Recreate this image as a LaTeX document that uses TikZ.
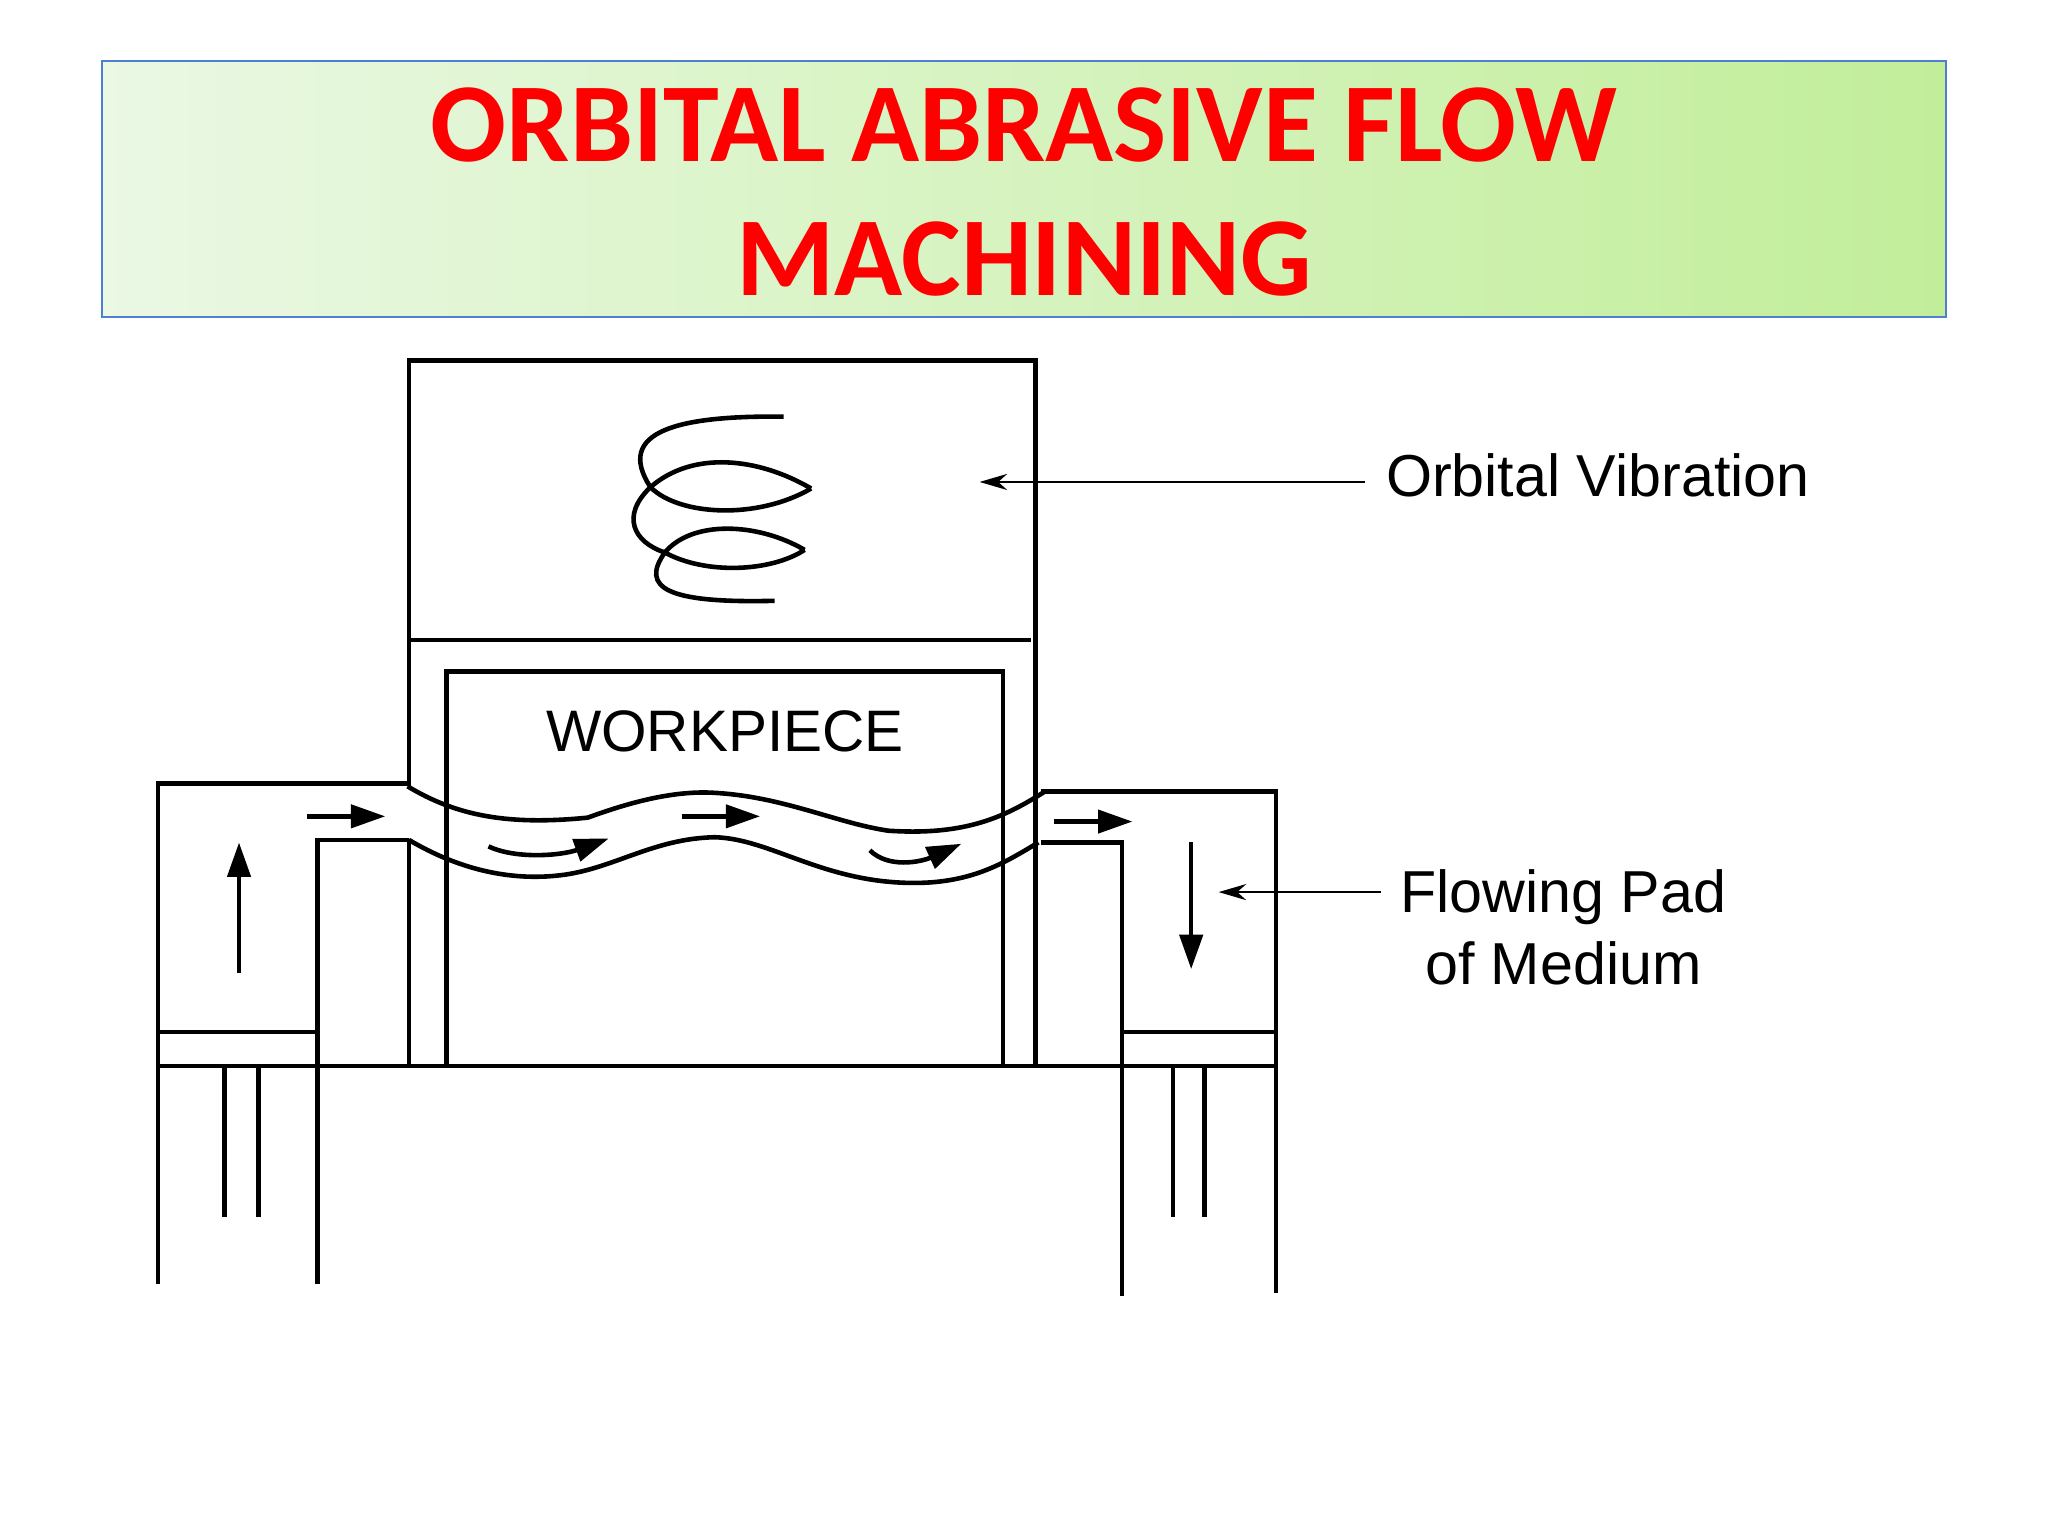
\documentclass[tikz,border=0pt]{standalone}
\usepackage{fontspec}
\setmainfont{Liberation Sans}
\newfontfamily\titlefont{Carlito}
\usetikzlibrary{arrows.meta}
\definecolor{gL}{HTML}{EAF8E4}
\definecolor{gR}{HTML}{C2EE9A}
\definecolor{bd}{HTML}{4F7FD0}
\begin{document}
\begin{tikzpicture}[x=0.02cm,y=-0.02cm,
  ln/.style={line width=2pt},
  arr/.style={line width=2pt,-{Triangle[length=15pt,width=10pt]}},
  larr/.style={line width=1.1pt,-{Stealth[length=12pt,width=7pt]}},
  lbl/.style={font=\fontsize{25.8}{31}\selectfont,align=center}]
\useasboundingbox (0,0) rectangle (1568,1176);
\fill[white] (0,0) rectangle (1568,1176);
% title
\shade[left color=gL, right color=gR] (78,47) rectangle (1490,243);
\draw[bd, line width=0.9pt] (78,47) rectangle (1490,243);
\node[font=\titlefont\bfseries\fontsize{49}{58}\selectfont, text=red, align=center] (title) at (784,147) {ORBITAL ABRASIVE FLOW\\MACHINING};
% top box
\draw[ln] (313,490) -- (313,276) -- (793,276) -- (793,816);
\draw[ln] (313,490) -- (789,490);
\draw[ln] (313,490) -- (313,602);
\draw[ln] (313,643) -- (313,816);
% workpiece
\draw[ln] (342,816) -- (342,514) -- (768,514) -- (768,816);
\node[lbl, font=\fontsize{25.5}{30}\selectfont] (wp) at (555,560) {WORKPIECE};
% left channel
\draw[ln] (121,983) -- (121,600) -- (313,600);
\draw[ln] (243,983) -- (243,643) -- (313,643);
\draw[ln] (121,790) -- (243,790);
\draw[ln] (121,816) -- (977,816);
\draw[ln] (172,816) -- (172,932);
\draw[ln] (198,816) -- (198,932);
% right channel
\draw[ln] (797,606) -- (977,606) -- (977,990);
\draw[ln] (797,645) -- (859,645) -- (859,992);
\draw[ln] (859,790) -- (977,790);
\draw[ln] (898,816) -- (898,932);
\draw[ln] (922,816) -- (922,932);
% wavy channel
\draw[ln] (312,602) .. controls (350,625) and (390,632) .. (450,626)
  .. controls (480,615) and (515,605) .. (547,607)
  .. controls (600,610) and (640,630) .. (680,636)
  .. controls (740,640) and (770,625) .. (800,606);
\draw[ln] (313,643) .. controls (350,665) and (390,675) .. (430,670)
  .. controls (470,665) and (500,642) .. (547,641)
  .. controls (590,642) and (630,676) .. (700,676)
  .. controls (745,676) and (770,660) .. (795,645);
% flow arrows
\draw[arr] (235,625) -- (295,625);
\draw[arr] (522,625) -- (582,625);
\draw[arr] (807,629) -- (867,629);
\draw[arr] (183,745) -- (183,645);
\draw[arr] (912,645) -- (912,742);
\draw[arr] (374,648) .. controls (395,658) and (430,655) .. (466,642);
\draw[arr] (666,651) .. controls (680,665) and (705,660) .. (736,646);
% spiral
\draw[ln] (600,319) .. controls (520,318) and (470,330) .. (498,373)
  .. controls (520,395) and (580,398) .. (621,374);
\draw[ln] (621,374) .. controls (580,350) and (530,345) .. (498,373)
  .. controls (475,395) and (485,415) .. (509,423)
  .. controls (540,440) and (590,438) .. (616,421);
\draw[ln] (616,421) .. controls (580,400) and (530,398) .. (509,423)
  .. controls (490,450) and (510,462) .. (593,460);
% labels
\coordinate (ov) at (750,369);
\node[lbl, anchor=west] (orb) at (1055,364) {Orbital Vibration};
\draw[larr] (1045,369) -- (ov);
\coordinate (fp) at (933,683);
\node[lbl, anchor=west] (flow) at (1066,710) {Flowing Pad\\of Medium};
\draw[larr] (1057,683) -- (fp);
\end{tikzpicture}
\end{document}
